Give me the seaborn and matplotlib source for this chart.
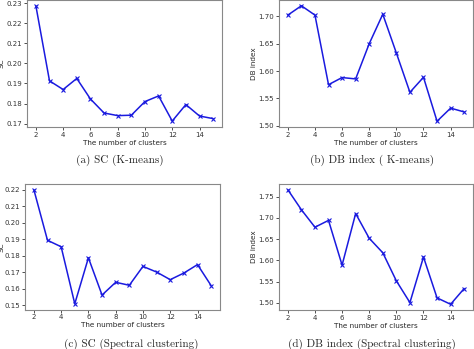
import matplotlib
matplotlib.use("Agg")
import matplotlib.pyplot as plt
import seaborn as sns
import pandas as pd

clusters = list(range(2, 16))

sc_kmeans = [0.2287, 0.1913, 0.1870, 0.1925, 0.1823, 0.1753, 0.1740,
             0.1742, 0.1810, 0.1838, 0.1713, 0.1795, 0.1738, 0.1725]
db_kmeans = [1.7024, 1.7195, 1.7024, 1.5750, 1.5880, 1.5855, 1.6500,
             1.7040, 1.6330, 1.5610, 1.5885, 1.5080, 1.5320, 1.5250]
sc_spectral = [0.2200, 0.1894, 0.1855, 0.1510, 0.1788, 0.1563, 0.1640,
               0.1622, 0.1736, 0.1702, 0.1656, 0.1696, 0.1747, 0.1620]
db_spectral = [1.7660, 1.7190, 1.6780, 1.6940, 1.5890, 1.7100, 1.6520,
               1.6180, 1.5520, 1.5010, 1.6080, 1.5120, 1.4970, 1.5340]

panels = [
    (sc_kmeans, "SC", "(a) SC (K-means)"),
    (db_kmeans, "DB index", "(b) DB index ( K-means)"),
    (sc_spectral, "SC", "(c) SC (Spectral clustering)"),
    (db_spectral, "DB index", "(d) DB index (Spectral clustering)"),
]

sns.set_style("ticks")
plt.rcParams["font.family"] = ["DejaVu Sans"]

W, H = 474, 349
fig = plt.figure(figsize=(W / 100, H / 100), dpi=100)

# axes boxes in pixels: left, top, right, bottom
boxes = [
    (27, 0, 222, 126.8),
    (279, 0, 473, 127),
    (25, 184, 220, 309.5),
    (279, 184, 473, 310),
]
ylabel_x = [5, 257, 5, 257]
caption_pos = [(120, 160), (372, 160), (131, 344), (372, 344)]

for (vals, ylab, cap), (l, t, r, b), yx, (cx, cy) in zip(panels, boxes, ylabel_x, caption_pos):
    ax = fig.add_axes([l / W, 1 - b / H, (r - l) / W, (b - t) / H])
    df = pd.DataFrame({"k": clusters, "v": vals})
    sns.lineplot(data=df, x="k", y="v", ax=ax, color="#1a1adf", marker="x",
                 markersize=3.5, markeredgewidth=0.8, markeredgecolor="#1a1adf",
                 linewidth=1.1)
    ax.set_xticks([2, 4, 6, 8, 10, 12, 14])
    ax.set_xlabel("The number of clusters", fontsize=5.2, labelpad=1.5)
    ax.set_ylabel(ylab, fontsize=5.2)
    ax.yaxis.set_label_coords((yx - l) / (r - l), 0.5)
    ax.tick_params(labelsize=5, length=2, width=0.6, pad=1.5, colors="#333333")
    for s in ax.spines.values():
        s.set_visible(True)
        s.set_linewidth(0.8)
        s.set_color("#888888")
    fig.text(cx / W, 1 - cy / H, cap, ha="center", va="center",
             fontsize=8, family="cmr10")

fig.savefig("out.png", dpi=100)
